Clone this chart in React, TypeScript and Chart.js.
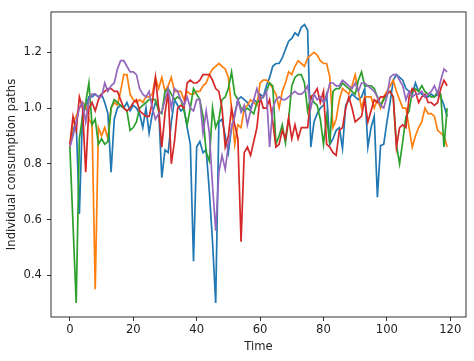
import React, { useEffect, useRef } from "react";
import { Chart, registerables } from "chart.js";

Chart.register(...registerables);

const xTickValues = [0, 20, 40, 60, 80, 100, 120];
const yTickValues = [0.4, 0.6, 0.8, 1.0, 1.2];

const seriesColors = ["#1f77b4", "#ff7f0e", "#2ca02c", "#d62728", "#9467bd"];

const blue = [
  0.86, 0.92, 0.95, 0.62, 0.98, 1.0, 1.04, 1.04, 1.05, 1.04,
  1.05, 1.02, 0.98, 0.77, 0.96, 1.0, 1.01, 1.0, 1.02, 0.99,
  1.01, 1.0, 0.98, 0.93, 1.0, 0.91, 0.98, 1.02, 1.0, 0.75,
  0.85, 0.84, 0.95, 1.03, 1.01, 0.99, 1.0, 0.93, 0.87, 0.45,
  0.86, 0.88, 0.84, 0.85, 0.7, 0.52, 0.3, 0.95, 0.96, 0.9,
  0.84, 0.93, 0.98, 1.03, 1.04, 1.03, 1.02, 1.0, 1.03, 1.02,
  1.05, 1.04, 1.08, 1.11, 1.15, 1.16, 1.16, 1.18, 1.21, 1.24,
  1.25, 1.27, 1.26, 1.29, 1.3, 1.28, 0.86, 0.95, 0.98, 1.0,
  1.01, 1.05, 0.87, 0.89, 0.92, 0.93, 0.855, 1.01, 1.03, 1.05,
  1.04, 1.03, 1.04, 1.07, 0.86, 0.93, 0.97, 0.68, 0.865, 0.87,
  0.95, 1.02, 1.1, 1.12, 1.11, 1.1, 1.07, 1.06, 1.05, 1.09,
  1.06, 1.05, 1.04, 1.04, 1.05, 1.04, 1.05, 1.04, 1.01, 0.97,
];

const orange = [
  0.86, 0.95, 0.97, 1.0, 1.02, 1.01, 0.96, 0.94, 0.35, 0.93,
  0.9, 0.93, 0.89, 1.0, 1.02, 1.01, 1.06, 1.12, 1.12, 1.05,
  1.03, 1.02, 1.03, 1.02, 1.04, 1.04, 1.05, 1.11, 1.07, 1.11,
  1.06, 1.08, 1.11, 1.06, 1.06, 1.06, 1.03, 1.06, 1.05, 1.05,
  1.06, 1.06, 1.08, 1.09, 1.12, 1.14, 1.15, 1.16, 1.15, 1.14,
  1.11, 1.0, 0.87, 0.94, 0.93, 1.0, 1.01, 1.03, 1.02, 1.01,
  1.09, 1.1, 1.1, 1.09, 1.07, 1.05, 1.0, 1.06, 1.09, 1.13,
  1.12, 1.15, 1.17, 1.16, 1.15, 1.18, 1.19, 1.2, 1.19, 1.17,
  1.16, 1.16, 1.11, 0.93, 0.96, 1.03, 1.07, 1.06, 1.05, 1.08,
  1.12, 1.06, 1.0, 1.04, 1.04, 1.04, 1.0, 1.03, 1.0, 1.04,
  1.06, 1.08, 1.1, 1.06, 1.03, 1.0, 1.0, 0.93, 0.86, 0.9,
  0.93, 0.95, 1.0, 0.98, 0.98, 0.97, 0.92, 0.91, 0.9, 0.86,
];

const green = [
  0.86, 0.58, 0.3, 0.89, 0.97, 1.02, 1.09, 0.94, 0.96, 0.87,
  0.89, 0.87, 0.88, 1.0, 1.03, 1.02, 1.01, 1.0, 0.99, 0.92,
  0.93, 0.95, 1.0, 1.01, 1.02, 1.03, 1.03, 1.03, 0.99, 0.98,
  1.06, 1.07, 1.05, 1.03, 1.04, 1.03, 0.99, 0.94, 1.0, 1.07,
  1.05, 1.03, 0.97, 0.84, 0.81, 1.0, 0.93, 0.96, 1.03, 1.04,
  1.07, 1.13, 1.05, 1.03, 1.0, 0.99, 1.0, 0.99, 0.98, 1.02,
  1.03, 1.04, 1.06, 1.09, 1.08, 0.87, 0.9, 0.94, 0.875, 0.96,
  1.08, 1.11, 1.12, 1.12, 1.09, 0.99, 1.04, 1.02, 1.01, 0.96,
  0.87, 0.97, 0.87, 1.06, 1.07, 1.07, 1.09, 1.08, 1.07, 1.06,
  1.05, 1.1, 1.13, 1.08, 1.08, 1.08, 1.07, 1.04, 1.01, 1.03,
  1.05, 1.06, 1.04, 0.87, 0.8, 0.88, 0.97, 0.99, 1.06, 1.07,
  1.06, 1.08, 1.06, 1.05, 1.04, 1.04, 1.06, 1.05, 0.86, 1.0,
];

const red = [
  0.87, 0.97, 0.92, 1.04, 1.0, 0.77, 1.0, 1.02, 0.99, 1.03,
  1.05, 1.06, 1.07, 1.07, 1.06, 1.06, 1.03, 1.0, 0.99, 1.0,
  1.02, 1.03, 0.99, 0.98, 0.97, 0.97, 1.02, 1.11, 1.0, 0.86,
  0.98, 1.06, 0.8, 0.88, 1.0, 1.01, 1.0, 1.09, 1.1, 1.09,
  1.09, 1.1, 1.12, 1.12, 1.12, 1.1, 1.07, 1.06, 1.0, 0.86,
  0.9, 1.0, 0.94, 0.89, 0.52, 0.84, 0.86, 0.83, 0.88, 0.93,
  1.04, 1.0, 1.0, 1.03, 0.95, 0.86, 0.87, 0.92, 0.89, 0.965,
  0.89, 0.94, 0.89, 0.93, 0.93, 0.93, 1.04, 1.05, 1.07, 1.02,
  1.06, 0.87, 0.86, 0.84, 0.83, 0.92, 0.93, 1.0, 1.04, 1.0,
  0.95, 0.96, 0.97, 1.03, 0.95, 0.99, 1.03, 1.02, 1.04, 1.04,
  1.05, 1.06, 1.04, 0.86, 0.93, 0.94, 0.93, 1.04, 1.07, 1.06,
  1.02, 1.04, 1.05, 1.02, 1.02, 1.01, 1.02, 1.07, 1.1, 1.08,
];

const purple = [
  0.86, 0.9, 0.95, 1.0, 1.02, 0.95, 1.03, 1.05, 1.05, 1.04,
  1.04, 1.09, 1.06, 1.08, 1.09, 1.14, 1.17, 1.17, 1.15, 1.13,
  1.13, 1.12, 1.07, 1.05, 1.04, 1.06, 1.0, 0.96, 0.98, 0.985,
  1.03, 1.07, 1.0, 1.07, 1.06, 1.03, 1.01, 1.04, 1.0, 0.99,
  1.03, 1.03, 0.91, 0.99, 0.91, 0.72, 0.56, 0.77, 0.83, 0.78,
  0.87, 0.93, 0.97, 1.03, 0.985, 1.01, 0.94, 0.99, 1.03, 1.07,
  1.03, 1.04, 1.06, 0.86, 1.0, 1.03, 1.04, 1.03, 1.03, 1.04,
  1.05, 1.06, 1.05, 1.05, 1.06, 1.08, 1.0, 1.05, 1.03, 1.04,
  1.02, 1.04, 1.09, 1.09, 1.08, 1.08, 1.1, 1.09, 1.08, 1.07,
  1.09, 1.06, 1.09, 1.09, 1.08, 1.07, 1.06, 1.04, 1.01, 1.0,
  1.04, 1.11, 1.12, 1.12, 1.1, 1.08, 1.03, 1.06, 1.04, 1.05,
  1.05, 1.06, 1.04, 1.05, 1.06, 1.08, 1.05, 1.1, 1.14, 1.13,
];

const allSeries = [blue, orange, green, red, purple];

const frame = {
  id: "frame",
  afterDraw(chart: any) {
    const { ctx, chartArea } = chart;
    ctx.save();
    ctx.strokeStyle = "#000";
    ctx.lineWidth = 0.8;
    ctx.strokeRect(chartArea.left, chartArea.top, chartArea.right - chartArea.left, chartArea.bottom - chartArea.top);
    ctx.restore();
  },
};

export default function App() {
  const ref = useRef<HTMLCanvasElement | null>(null);
  useEffect(() => {
    if (!ref.current) return;
    const font = { family: "DejaVu Sans", size: 11.6 };
    const textColor = "#222";
    const chart = new Chart(ref.current, {
      type: "line",
      data: {
        datasets: allSeries.map((vals, i) => ({
          data: vals.map((v, t) => ({ x: t, y: v })),
          borderColor: seriesColors[i],
          backgroundColor: seriesColors[i],
          borderWidth: 1.7,
          pointRadius: 0,
          tension: 0,
          fill: false,
          order: allSeries.length - i,
        })),
      },
      options: {
        responsive: false,
        animation: false,
        devicePixelRatio: 1,
        layout: { padding: { top: 8, right: 8, left: 0, bottom: 0 } },
        plugins: { legend: { display: false }, tooltip: { enabled: false } },
        scales: {
          x: {
            type: "linear",
            min: -5.95,
            max: 124.95,
            afterBuildTicks: (s: any) => {
              s.ticks = xTickValues.map((v) => ({ value: v }));
            },
            afterFit: (s: any) => {
              s.height = 44;
            },
            ticks: { font, color: textColor, padding: 2, maxRotation: 0, callback: (v: any) => String(v) },
            grid: { drawOnChartArea: false, drawTicks: true, tickLength: 4, color: "#000", lineWidth: 0.8 },
            border: { display: false },
            title: { display: true, text: "Time", font, color: textColor, padding: { top: 0, bottom: 7 } },
          },
          y: {
            type: "linear",
            min: 0.25,
            max: 1.345,
            afterBuildTicks: (s: any) => {
              s.ticks = yTickValues.map((v) => ({ value: v }));
            },
            afterFit: (s: any) => {
              s.width = 51;
            },
            ticks: { font, color: textColor, padding: 5, callback: (v: any) => Number(v).toFixed(1) },
            grid: { drawOnChartArea: false, drawTicks: true, tickLength: 4, color: "#000", lineWidth: 0.8 },
            border: { display: false },
            title: {
              display: true,
              text: "Individual consumption paths",
              font,
              color: textColor,
              padding: { top: 5, bottom: 0 },
            },
          },
        },
      },
      plugins: [frame],
    });
    return () => chart.destroy();
  }, []);
  return (
    <div style={{ position: "fixed", left: 0, top: 0, width: 474, height: 361, background: "#fff" }}>
      <canvas ref={ref} width={474} height={361} style={{ display: "block", width: 474, height: 361 }} />
    </div>
  );
}
